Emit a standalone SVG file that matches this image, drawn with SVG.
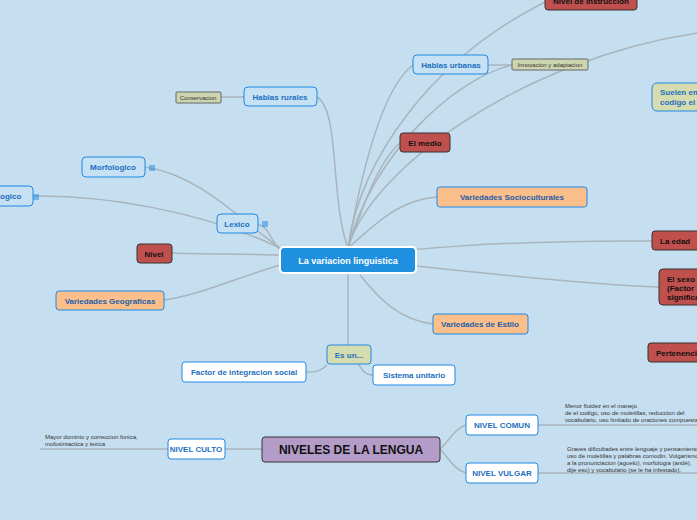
<svg xmlns="http://www.w3.org/2000/svg" width="697" height="520" viewBox="0 0 697 520">
<style>
text{font-family:"Liberation Sans",Arial,sans-serif;font-weight:bold}
.c path{fill:none;stroke:#a9b4bc;stroke-width:1.5}
.bl rect{fill:#c5e1f3;stroke:#1e88e5;stroke-width:1}
.bl text{fill:#1e6fc0;font-size:8px}
.wh rect{fill:#fff;stroke:#1e88e5}
.wh text{fill:#1e6fc0;font-size:8px}
.rd rect{fill:#c0504d;stroke:#333}
.rd text{fill:#111;font-size:8px}
.or rect{fill:#fbbf8c;stroke:#1e88e5}
.or text{fill:#1e5ea8;font-size:8px}
.gr rect{fill:#d5dcb0;stroke:#1e88e5}
.gr text{fill:#1e6fc0;font-size:8px}
.sm rect{fill:#cdd4b0;stroke:#666}
.sm text{fill:#333;font-size:6px;font-weight:normal}
.note{font-size:6px;font-weight:normal;fill:#333}
</style>
<rect width="697" height="520" fill="#c5dff0"/>
<g class="c">
<path d="M348 248 C330 200 340 110 317 97"/>
<path d="M348 248 C360 180 380 90 413 65"/>
<path d="M348 248 C360 160 430 60 545 2"/>
<path d="M348 248 C370 160 450 80 512 65"/>
<path d="M348 248 C370 170 520 60 697 33"/>
<path d="M348 248 C365 200 380 160 400 143"/>
<path d="M348 248 C380 220 400 200 437 197"/>
<path d="M348 260 C380 250 500 240 652 241"/>
<path d="M416 266 C500 275 600 285 659 287"/>
<path d="M360 275 C380 300 400 320 433 324"/>
<path d="M280 255 C240 254 200 254 172 253"/>
<path d="M280 265 C230 280 200 295 164 300"/>
<path d="M280 250 C270 240 270 228 258 224"/>
<path d="M280 248 C240 220 200 175 145 167"/>
<path d="M280 248 C200 210 100 195 33 196"/>
<path d="M244 97 L221 97"/>
<path d="M488 65 L512 65"/>
<path d="M348 248 C348 270 348 300 348 345"/>
<path d="M327 365 C320 372 315 372 306 372"/>
<path d="M357 362 C362 370 365 375 373 375"/>
<path d="M262 449 L225 449"/>
<path d="M168 449 L40 449"/>
<path d="M440 449 C450 440 455 428 466 425"/>
<path d="M440 449 C450 460 455 470 466 473"/>
<path d="M538 425 L697 425"/>
<path d="M538 473 L697 473"/>
</g>
<g id="center"><rect x="280" y="247" width="136" height="26" rx="4" fill="#1f8fe0" stroke="#fff" stroke-width="2"/><text x="348" y="264" text-anchor="middle" fill="#fff" font-size="9">La variacion linguistica</text></g>
<g id="hurb" class="bl"><rect x="413" y="55" width="75" height="19" rx="4"/><text x="451" y="68" text-anchor="middle">Hablas urbanas</text></g>
<g id="innov" class="sm"><rect x="512" y="59" width="76" height="11" rx="1"/><text x="550" y="67" text-anchor="middle">Innovacion y adaptacion</text></g>
<g id="nivinst" class="rd"><rect x="545" y="-10" width="92" height="20" rx="3" fill="#e8a4a4"/><text x="591" y="4" text-anchor="middle">Nivel de instruccion</text></g>
<g id="hrur" class="bl"><rect x="244" y="87" width="73" height="19" rx="4"/><text x="280" y="100" text-anchor="middle">Hablas rurales</text></g>
<g id="cons" class="sm"><rect x="176" y="92" width="45" height="11" rx="1"/><text x="198" y="100" text-anchor="middle">Conservacion</text></g>
<g id="suelen" class="gr"><rect x="652" y="83" width="60" height="28" rx="5"/><text x="660" y="95">Suelen em</text><text x="660" y="105">codigo el</text></g>
<g id="medio" class="rd"><rect x="400" y="133" width="50" height="19" rx="3"/><text x="425" y="146" text-anchor="middle">El medio</text></g>
<g id="vsoc" class="or"><rect x="437" y="187" width="150" height="20" rx="3"/><text x="512" y="200" text-anchor="middle">Variedades Socioculturales</text></g>
<g id="edad" class="rd"><rect x="652" y="231" width="60" height="19" rx="3"/><text x="660" y="244">La edad</text></g>
<g id="sexo" class="rd"><rect x="659" y="269" width="60" height="36" rx="4"/><text x="667" y="282">El sexo</text><text x="667" y="291">(Factor</text><text x="667" y="300">significa</text></g>
<g id="pert" class="rd"><rect x="648" y="343" width="60" height="19" rx="3"/><text x="656" y="356">Pertenencia</text></g>
<g id="vest" class="or"><rect x="433" y="314" width="95" height="20" rx="3"/><text x="480" y="327" text-anchor="middle">Variedades de Estilo</text></g>
<g id="morf" class="bl"><rect x="82" y="157" width="63" height="20" rx="4"/><text x="113" y="170" text-anchor="middle">Morfologico</text><path d="M149 166h6M149 168h6M149 170h6" stroke="#1e88e5"/></g>
<g id="ogico" class="bl"><rect x="-30" y="186" width="63" height="20" rx="4"/><text x="0" y="199" text-anchor="start">ogico</text><path d="M33 195h6M33 197h6M33 199h6" stroke="#1e88e5"/></g>
<g id="lexico" class="bl"><rect x="217" y="214" width="41" height="19" rx="4"/><text x="237" y="227" text-anchor="middle">Lexico</text><path d="M262 222h6M262 224h6M262 226h6" stroke="#1e88e5"/></g>
<g id="nivel" class="rd"><rect x="137" y="244" width="35" height="19" rx="3"/><text x="154" y="257" text-anchor="middle">Nivel</text></g>
<g id="vgeo" class="or"><rect x="56" y="291" width="108" height="19" rx="3"/><text x="110" y="304" text-anchor="middle">Variedades Geograficas</text></g>
<g id="esun" class="gr"><rect x="327" y="345" width="44" height="19" rx="3"/><text x="349" y="358" text-anchor="middle">Es un...</text></g>
<g id="factor" class="wh"><rect x="182" y="362" width="124" height="20" rx="3"/><text x="244" y="375" text-anchor="middle">Factor de integracion social</text></g>
<g id="sist" class="wh"><rect x="373" y="365" width="82" height="20" rx="3"/><text x="414" y="378" text-anchor="middle">Sistema unitario</text></g>
<g id="niveles"><rect x="262" y="437" width="178" height="25" rx="3" fill="#b39cc8" stroke="#333"/><text x="351" y="454" text-anchor="middle" font-size="12" fill="#111">NIVELES DE LA LENGUA</text></g>
<g id="culto" class="wh"><rect x="168" y="439" width="57" height="20" rx="3"/><text x="196" y="452" text-anchor="middle">NIVEL CULTO</text></g>
<g id="comun" class="wh"><rect x="466" y="415" width="72" height="20" rx="3"/><text x="502" y="428" text-anchor="middle">NIVEL COMUN</text></g>
<g id="vulgar" class="wh"><rect x="466" y="463" width="72" height="20" rx="3"/><text x="502" y="476" text-anchor="middle">NIVEL VULGAR</text></g>
<g id="notes">
<text class="note" x="45" y="439">Mayor dominio y correccion fonica,</text>
<text class="note" x="45" y="446">mofosintactica y lexica</text>
<text class="note" x="565" y="408">Menor fluidez en el manejo</text>
<text class="note" x="565" y="415">de el codigo, uso de muletillas, reduccion del</text>
<text class="note" x="565" y="422">vocabulario, uso limitado de oraciones compuestas</text>
<text class="note" x="567" y="451">Graves dificultades entre lenguaje y pensamiento,</text>
<text class="note" x="567" y="458">uso de muletillas y palabras comodin. Vulgarismos</text>
<text class="note" x="567" y="465">a la pronunciacion (aguelo), morfologia (andé),</text>
<text class="note" x="567" y="472">dije eso) y vocabulario (se le ha infestado).</text>
</g>
</svg>
